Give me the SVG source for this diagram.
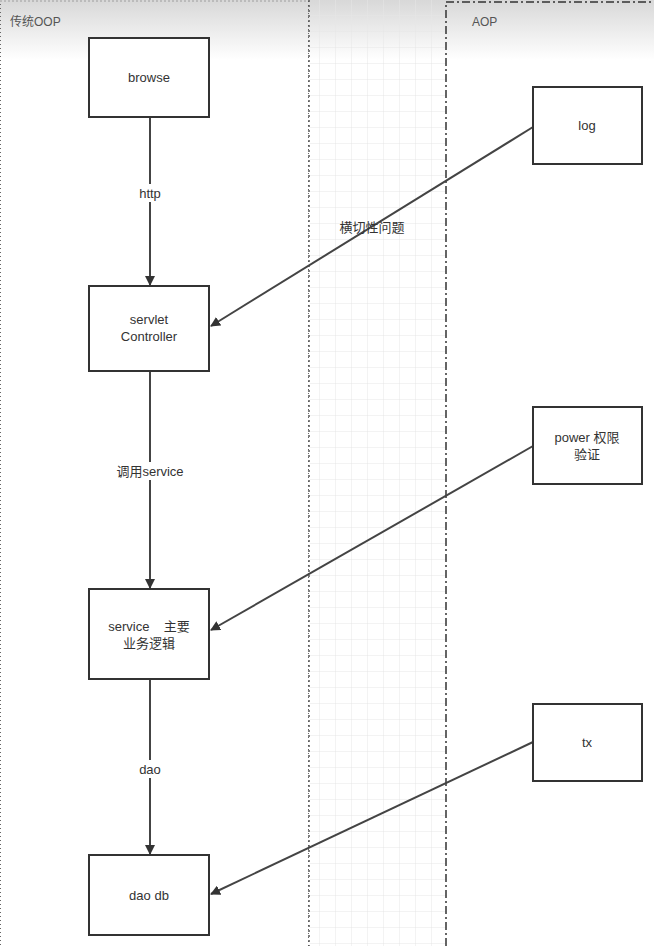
<svg xmlns="http://www.w3.org/2000/svg" width="654" height="946" viewBox="0 0 654 946">
<defs>
<linearGradient id="tg" x1="0" y1="0" x2="0" y2="1"><stop offset="0" stop-color="#d8d8d8"/><stop offset="1" stop-color="#ffffff"/></linearGradient>
<pattern id="grid" width="16" height="16" patternUnits="userSpaceOnUse"><path d="M16 0V16H0" fill="none" stroke="#e6e6e6" stroke-width="1"/></pattern>
<marker id="ah" viewBox="0 0 10 10" refX="9" refY="5" markerWidth="10" markerHeight="10" markerUnits="userSpaceOnUse" orient="auto"><path d="M0 0L10 5L0 10z" fill="#333"/></marker>
<style>
.n{fill:#fff;stroke:#333;stroke-width:2}
.t{font-family:"Liberation Sans","Noto Sans CJK SC",sans-serif;font-size:13px;fill:#333;text-anchor:middle}
.c{stroke:#444;stroke-width:2;fill:none;marker-end:url(#ah)}
.lb{fill:#fff}
</style>
</defs>
<rect width="654" height="946" fill="#fff"/>
<rect width="654" height="60" fill="url(#tg)"/>
<rect x="310" y="0" width="136" height="946" fill="url(#grid)"/>
<g id="frames" fill="none">
<rect x="0.5" y="1" width="308" height="960" stroke="#666" stroke-dasharray="1 3"/>
<line x1="309" y1="0" x2="309" y2="946" stroke="#555" stroke-width="1.5" stroke-dasharray="2 3"/>
<path d="M446 946V2H654" stroke="#333" stroke-width="1.5" stroke-dasharray="8 3 2 3"/>
</g>
<text x="10" y="26" class="t" style="text-anchor:start;font-size:12px;fill:#555">传统OOP</text>
<text x="472" y="26" class="t" style="text-anchor:start;font-size:12px;fill:#555">AOP</text>
<g id="connectors">
<line class="c" x1="150" y1="117" x2="150" y2="285"/>
<rect class="lb" x="132" y="184" width="36" height="18"/>
<text class="t" x="150" y="198">http</text>
<line class="c" x1="150" y1="371" x2="150" y2="588"/>
<rect class="lb" x="108" y="462" width="84" height="18"/>
<text class="t" x="150" y="476">调用service</text>
<line class="c" x1="150" y1="679" x2="150" y2="854"/>
<rect class="lb" x="134" y="760" width="32" height="18"/>
<text class="t" x="150" y="774">dao</text>
<line class="c" x1="533" y1="127" x2="211" y2="326"/>
<text class="t" x="372" y="232">横切性问题</text>
<line class="c" x1="533" y1="446" x2="211" y2="630"/>
<line class="c" x1="533" y1="742" x2="211" y2="894"/>
</g>
<g id="browse"><rect class="n" x="89" y="38" width="120" height="79"/><text class="t" x="149" y="82">browse</text></g>
<g id="servlet"><rect class="n" x="89" y="286" width="120" height="85"/><text class="t" x="149" y="324">servlet</text><text class="t" x="149" y="341">Controller</text></g>
<g id="service"><rect class="n" x="89" y="589" width="120" height="90"/><text class="t" x="149" y="631" xml:space="preserve">service    主要</text><text class="t" x="149" y="648">业务逻辑</text></g>
<g id="dao"><rect class="n" x="89" y="855" width="120" height="80"/><text class="t" x="149" y="900">dao db</text></g>
<g id="log"><rect class="n" x="533" y="87" width="109" height="77"/><text class="t" x="587" y="130">log</text></g>
<g id="power"><rect class="n" x="533" y="407" width="109" height="77"/><text class="t" x="587" y="442">power 权限</text><text class="t" x="587" y="459">验证</text></g>
<g id="tx"><rect class="n" x="533" y="704" width="109" height="77"/><text class="t" x="587" y="747">tx</text></g>
</svg>
